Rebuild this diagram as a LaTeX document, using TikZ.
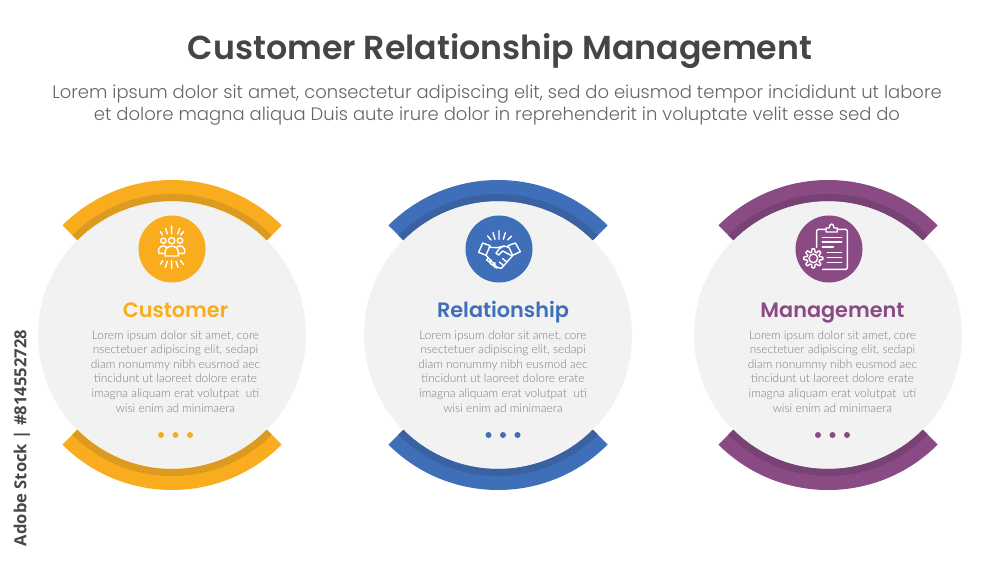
\documentclass[tikz,border=0pt]{standalone}
\usepackage{fontspec}
\setmainfont{Lato}
\newfontfamily\popsb{Poppins SemiBold}
\newfontfamily\popreg{Poppins Light}
\newfontfamily\latol{Lato Light}
\newfontfamily\opens{Open Sans}
\definecolor{ttl}{HTML}{454545}
\definecolor{sub}{HTML}{666666}
\definecolor{bodyc}{HTML}{7C7C7C}
\definecolor{disc}{HTML}{F2F2F2}
\definecolor{ora}{HTML}{F9AD1E}
\definecolor{orad}{HTML}{DC9A1F}
\definecolor{blu}{HTML}{3F6FB8}
\definecolor{blud}{HTML}{3A62A2}
\definecolor{pur}{HTML}{8A4A84}
\definecolor{purd}{HTML}{794274}
\tikzset{
 icn/.style={white,line width=1.4pt,line cap=round,line join=round},
 headtxt/.style={font=\popsb\fontsize{20.8}{25}\selectfont,anchor=base},
 bodytxt/.style={font=\latol\fontsize{11.9}{14.6}\selectfont,text=bodyc,align=center,anchor=north},
}
% #1 circle cx, #2 text cx, #3 col, #4 dark, #5 heading, #6 icon cx
\newcommand{\cardx}[6]{%
 \fill[disc] (#1,228) circle (134);
 \fill[#3] (#1,228) ++(45:155) arc[start angle=45,end angle=135,radius=155] -- ++(-45:21) arc[start angle=135,end angle=45,radius=134] -- cycle;
 \fill[#4] (#1,228) ++(45:141) arc[start angle=45,end angle=135,radius=141] -- ++(-45:7) arc[start angle=135,end angle=45,radius=134] -- cycle;
 \fill[#3] (#1,228) ++(225:155) arc[start angle=225,end angle=315,radius=155] -- ++(135:21) arc[start angle=315,end angle=225,radius=134] -- cycle;
 \fill[#4] (#1,228) ++(225:141) arc[start angle=225,end angle=315,radius=141] -- ++(135:7) arc[start angle=315,end angle=225,radius=134] -- cycle;
 \fill[#3] (#6,314) circle (33.5);
 \node[headtxt,text=#3] (h#5) at (#2,246) {#5};
 \node[bodytxt] (b#5) at (#2,236) {Lorem ipsum dolor sit amet, core\\nsectetuer adipiscing elit, sedapi\\diam nonummy nibh eusmod aec\\tincidunt ut laoreet dolore erate\\imagna aliquam erat volutpat\ \ uti\\wisi enim ad minimaera};
 \fill[#3] (#2-14.5,128) circle (3) (#2,128) circle (3) (#2+14.5,128) circle (3);
}
\begin{document}
\begin{tikzpicture}[x=1pt,y=1pt]
\useasboundingbox (0,0) rectangle (1000,563);
\fill[white] (0,0) rectangle (1000,563);
\node[font=\popsb\fontsize{33.2}{38}\selectfont,text=ttl] (title) at (500,512) {Customer Relationship Management};
\node[font=\popreg\fontsize{18}{22.5}\selectfont,text=sub,align=center] (subt) at (497,458) {Lorem ipsum dolor sit amet, consectetur adipiscing elit, sed do eiusmod tempor incididunt ut labore\\et dolore magna aliqua Duis aute irure dolor in reprehenderit in voluptate velit esse sed do};
\cardx{172}{175.5}{ora}{orad}{Customer}{172}
\cardx{498}{503}{blu}{blud}{Relationship}{499}
\cardx{828}{832.5}{pur}{purd}{Management}{829}
% customer icon (zoom coordinates)
\begin{scope}[shift={(130,353)},xscale=1/3,yscale=-1/3,icn]
 \draw (125,48)--(125,72) (107,55)--(112,72) (91,65)--(98,75) (143,72)--(149,55) (152,75)--(160,65);
 \draw (125,152)--(125,176) (112,154)--(106,172) (98,152)--(91,163) (138,154)--(144,172) (152,152)--(160,163);
 \draw (100,92) circle (8) (125,92) circle (9.5) (150,92) circle (8);
 \draw (105,138) -- (105,128) .. controls (105,102) and (145,102) .. (145,128) -- (145,138) -- cycle;
 \draw (105,130) -- (87,130) .. controls (80,110) and (100,102) .. (110,112);
 \draw (145,130) -- (163,130) .. controls (170,110) and (150,102) .. (140,112);
\end{scope}
% handshake icon
\begin{scope}[shift={(460,353)},xscale=1/3,yscale=-1/3,icn]
 \draw (117,62)--(117,88) (99,68)--(105,88) (83,78)--(93,90) (136,68)--(130,88) (155,78)--(143,90);
 \draw (68,99)--(90,107)--(78,136)--(56,127)--cycle;
 \draw (166,99)--(144,107)--(158,136)--(181,125)--cycle;
 \draw (88,112)--(112,113)--(132,108)--(146,112);
 \draw (132,108)--(118,116)--(108,130)--(116,135)--(128,123)--(155,137);
 \draw (78,136)--(100,160)--(112,172)--(124,175)--(157,138);
 \draw (86,143)--(80,150)--(88,156)--(94,150) (94,150)--(90,160)--(99,166)--(105,158) (105,158)--(102,170)--(112,174);
 \draw (128,146)--(140,156) (118,156)--(130,166);
\end{scope}
% clipboard icon
\begin{scope}[shift={(790,353)},xscale=1/3,yscale=-1/3,icn]
 \draw (80,112) -- (80,62) -- (84,58) -- (108,58) (142,58) -- (168,58) -- (172,62) -- (172,174) -- (168,178) -- (98,178);
 \draw (108,66) -- (108,54) -- (118,54) .. controls (118,38) and (132,38) .. (132,54) -- (142,54) -- (142,66) -- cycle;
 \draw (97,82)--(155,82) (97,96)--(155,96) (97,111)--(130,111) (112,128)--(155,128) (112,142)--(155,142) (112,157)--(155,157);
 \draw plot[domain=0:360,samples=97] ({70+(24+4.5*sign(cos(8*\x)))*cos(\x)},{145+(24+4.5*sign(cos(8*\x)))*sin(\x)}) -- cycle;
 \draw (70,145) circle (13);
\end{scope}
\node[rotate=90,font=\opens\bfseries\fontsize{16.6}{20}\selectfont,text=black!72] (credit) at (22,125) {Adobe Stock | \#814552728};
\end{tikzpicture}
\end{document}
